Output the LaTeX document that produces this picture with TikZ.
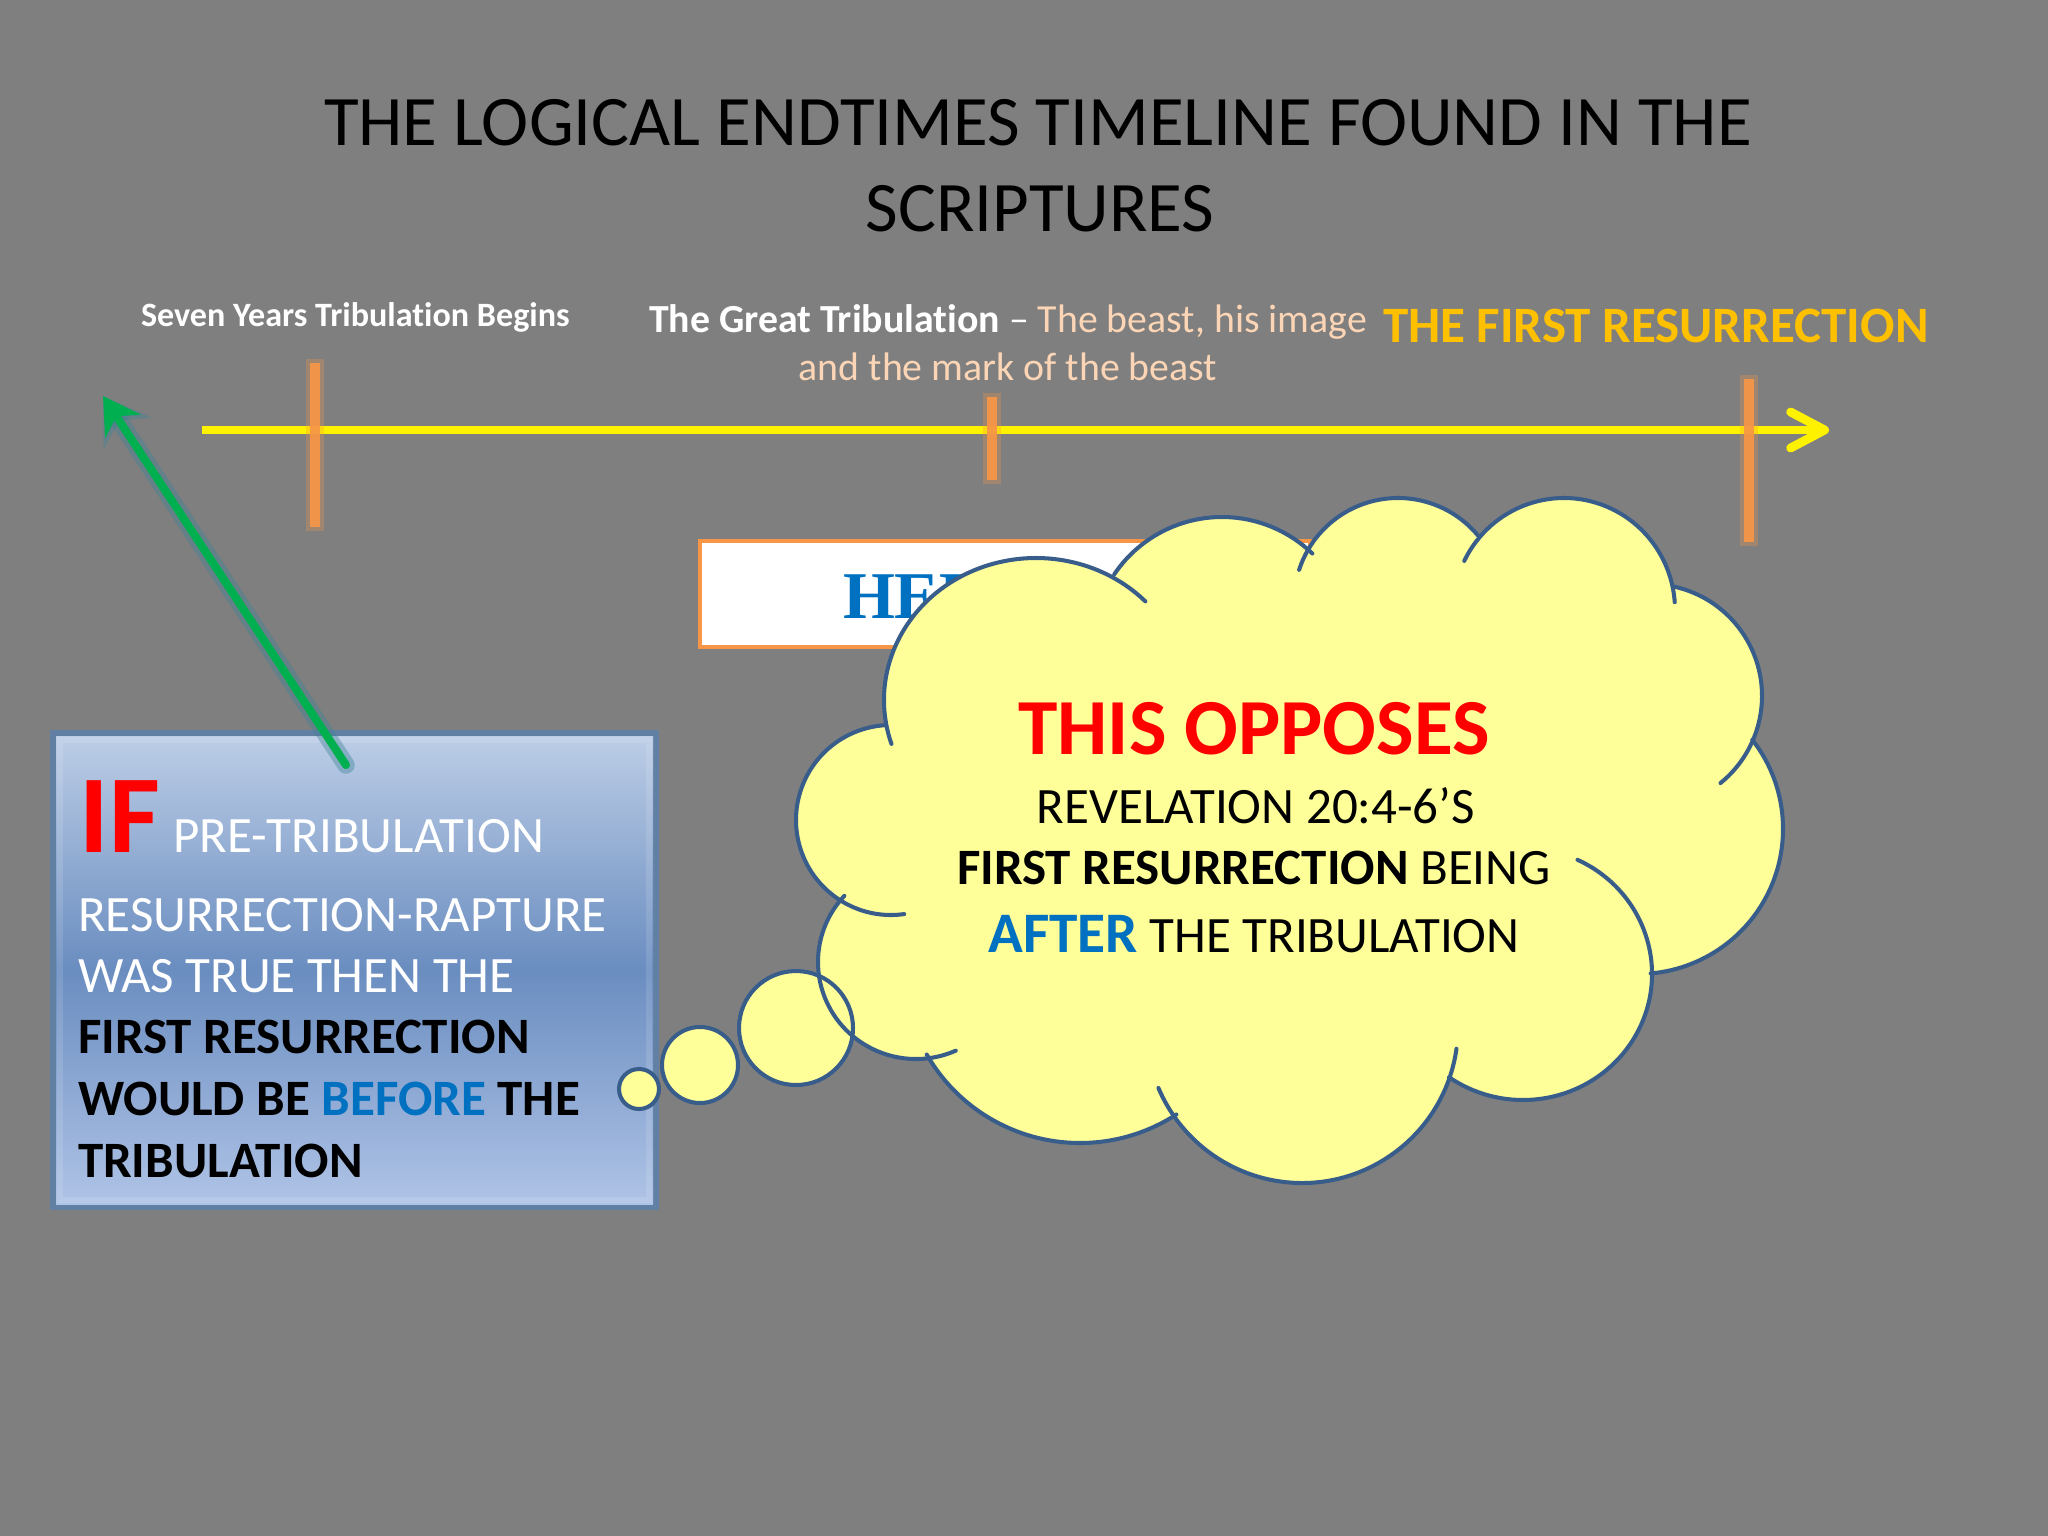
\documentclass[tikz,border=0pt]{standalone}
\usepackage{fontspec}
\usepackage{tikz}
\usetikzlibrary{arrows.meta}
\setmainfont{Carlito}[Ligatures=NoCommon]
\newfontfamily\serifhead{Liberation Serif}
\definecolor{slidegray}{HTML}{7F7F7F}
\definecolor{tickorange}{HTML}{F79646}
\definecolor{peach}{HTML}{FBD5B5}
\definecolor{gold}{HTML}{FFC000}
\definecolor{linkblue}{HTML}{0070C0}
\definecolor{cloudyellow}{HTML}{FFFF99}
\definecolor{cloudblue}{HTML}{385D8A}
\definecolor{pointergreen}{HTML}{00B050}
\definecolor{pointerglow}{HTML}{3C8296}
\definecolor{boxedge}{HTML}{4F81BD}
\definecolor{boxtop}{HTML}{BCCDE6}
\definecolor{boxmid}{HTML}{6A8DC0}
\definecolor{boxbot}{HTML}{AFC3E6}
\tikzset{
    linetext/.style={inner sep=0pt, outer sep=0pt, anchor=base west},
    midtext/.style={inner sep=0pt, outer sep=0pt, anchor=base},
    tickglow/.style={tickorange, opacity=0.28, line width=5.2pt, shorten <=-1pt, shorten >=-1pt},
    tickbar/.style={tickorange, opacity=0.92, line width=3pt},
    cloudfill/.style={fill=cloudyellow},
    cloudline/.style={draw=cloudblue, line width=1.15pt, line cap=round}
}
\newcommand{\lobelist}{
    1036/700/152/142/162/316, 1222/647/130/130/214/314, 1398/602/104/104/198/320,
    1564/610/111/112/206/356, 1650/696/112/112/282/411, 1638/829/145/145/-38/85,
    1523/974/129/126/-65/125, 1302/1027/156/156/8/157, 1080/966/177/177/57/150,
    916/962/98/97/66/223, 891/820/95/95/82/266}

\begin{document}
\begin{tikzpicture}[x=0.01cm, y=-0.01cm]
    \useasboundingbox (0,0) rectangle (2048,1536);
    \fill[slidegray] (0,0) rectangle (2048,1536);

    \draw (1038,145) node[midtext, font=\fontsize{20.2}{24}\selectfont] (titleone) {THE LOGICAL ENDTIMES TIMELINE FOUND IN THE};
    \draw (1040,231) node[midtext, font=\fontsize{20.2}{24}\selectfont] (titletwo) {SCRIPTURES};

    \draw (141,326) node[linetext, white, font=\bfseries\fontsize{9.7}{11}\selectfont] (sevenyears) {Seven Years Tribulation Begins};
    \draw (649,332) node[linetext, font=\fontsize{11.32}{13}\selectfont, peach] (greattrib) {\textcolor{white}{\textbf{The Great Tribulation} –} The beast, his image};
    \draw (1008,380) node[midtext, font=\fontsize{11.32}{13}\selectfont, peach] (greatmark) {and the mark of the beast};
    \draw (1383,342) node[linetext, gold, font=\bfseries\fontsize{14.5}{17}\selectfont] (firstres) {THE FIRST RESURRECTION};

    \coordinate (axisstart) at (202,430);
    \coordinate (axisend) at (1829,430);
    \coordinate (tickatop) at (315,363);
    \coordinate (tickabot) at (315,527);
    \coordinate (tickbtop) at (992,397);
    \coordinate (tickbbot) at (992,480);
    \coordinate (tickctop) at (1749,379);
    \coordinate (tickcbot) at (1749,542);
    \coordinate (pointerstart) at (346,765);
    \coordinate (pointerend) at (103,396);

    \draw[yellow, line width=2.5pt, -{Straight Barb[length=0.34cm, width=0.36cm, round]}] (axisstart) -- (axisend);
    \foreach \tick in {a,b,c} {
        \draw[tickglow] (tick\tick top) -- (tick\tick bot);
        \draw[tickbar] (tick\tick top) -- (tick\tick bot);
    }

    \draw[draw=tickorange, fill=white, line width=1.2pt] (700,541) rectangle (1310,647);
    \draw (843,618) node[linetext, linkblue, font=\serifhead\bfseries\fontsize{19}{22}\selectfont] (hearrest) {HEB};

    \draw[draw=boxedge, opacity=0.6, line width=3.2pt] (56,736) rectangle (653,1204);
    \shade[top color=boxtop, bottom color=boxbot, middle color=boxmid] (56,736) rectangle (653,1204);
    \draw[white, opacity=0.12, line width=1.5pt] (60,740) rectangle (649,1200);

    \draw (80,852) node[linetext, red, font=\bfseries\fontsize{31.5}{38}\selectfont] (ifword) {IF};
    \draw (173,852) node[linetext, white, font=\fontsize{14.5}{17}\selectfont] (pretrib) {PRE-TRIBULATION};
    \draw (78,931) node[linetext, white, font=\fontsize{14.5}{17}\selectfont] (lineone) {RESURRECTION-RAPTURE};
    \draw (78,992) node[linetext, white, font=\fontsize{14.5}{17}\selectfont] (linetwo) {WAS TRUE THEN THE};
    \draw (78,1053) node[linetext, font=\bfseries\fontsize{14.5}{17}\selectfont] (linethree) {FIRST RESURRECTION};
    \draw (78,1115) node[linetext, font=\bfseries\fontsize{14.5}{17}\selectfont] (linefour) {WOULD BE \textcolor{linkblue}{BEFORE} THE};
    \draw (78,1177) node[linetext, font=\bfseries\fontsize{14.5}{17}\selectfont] (linefive) {TRIBULATION};

    \draw[pointerglow, opacity=0.4, line width=5pt, line cap=round, -{Stealth[length=0.44cm, width=0.56cm]}] (pointerstart) -- (pointerend);
    \draw[pointergreen, line width=2.3pt, line cap=round, -{Stealth[length=0.36cm, width=0.42cm]}] (pointerstart) -- (pointerend);

    \foreach \cx/\cy/\rx/\ry/\sa/\ea in \lobelist {
        \fill[cloudfill] (1250,820) -- ({\cx+\rx*cos(\sa)},{\cy+\ry*sin(\sa)}) arc[start angle=\sa, end angle=\ea, x radius=\rx, y radius=\ry] -- cycle;
    }
    \fill[cloudfill] (1116,574) -- (1304,550) -- (1478,537) -- (1673,585) -- (1752,740) -- (1651,974) -- (1451,1077) -- (1174,1116) -- (929,1054) -- (846,899) -- (884,726) -- cycle;
    \fill[cloudfill] (796,1028) circle (57);
    \fill[cloudfill] (700,1065) circle (38);
    \fill[cloudfill] (639,1089) circle (20);
    \foreach \cx/\cy/\rx/\ry/\sa/\ea in \lobelist {
        \draw[cloudline] ({\cx+\rx*cos(\sa)},{\cy+\ry*sin(\sa)}) arc[start angle=\sa, end angle=\ea, x radius=\rx, y radius=\ry];
    }
    \draw[cloudline] (796,1028) circle (57);
    \draw[cloudline] (700,1065) circle (38);
    \draw[cloudline] (639,1089) circle (20);

    \draw (1254,754) node[midtext, red, font=\bfseries\fontsize{22.6}{27}\selectfont] (opposes) {THIS OPPOSES};
    \draw (1256,823) node[midtext, font=\fontsize{14.5}{17}\selectfont] (revelation) {REVELATION 20:4-6’S};
    \draw (1254,884) node[midtext, font=\fontsize{14.5}{17}\selectfont] (beingline) {\textbf{FIRST RESURRECTION} BEING};
    \draw (1254,952) node[midtext, font=\fontsize{14.5}{17}\selectfont] (afterline) {\textcolor{linkblue}{\fontsize{16.3}{17}\selectfont\textbf{AFTER}} THE TRIBULATION};
\end{tikzpicture}
\end{document}
